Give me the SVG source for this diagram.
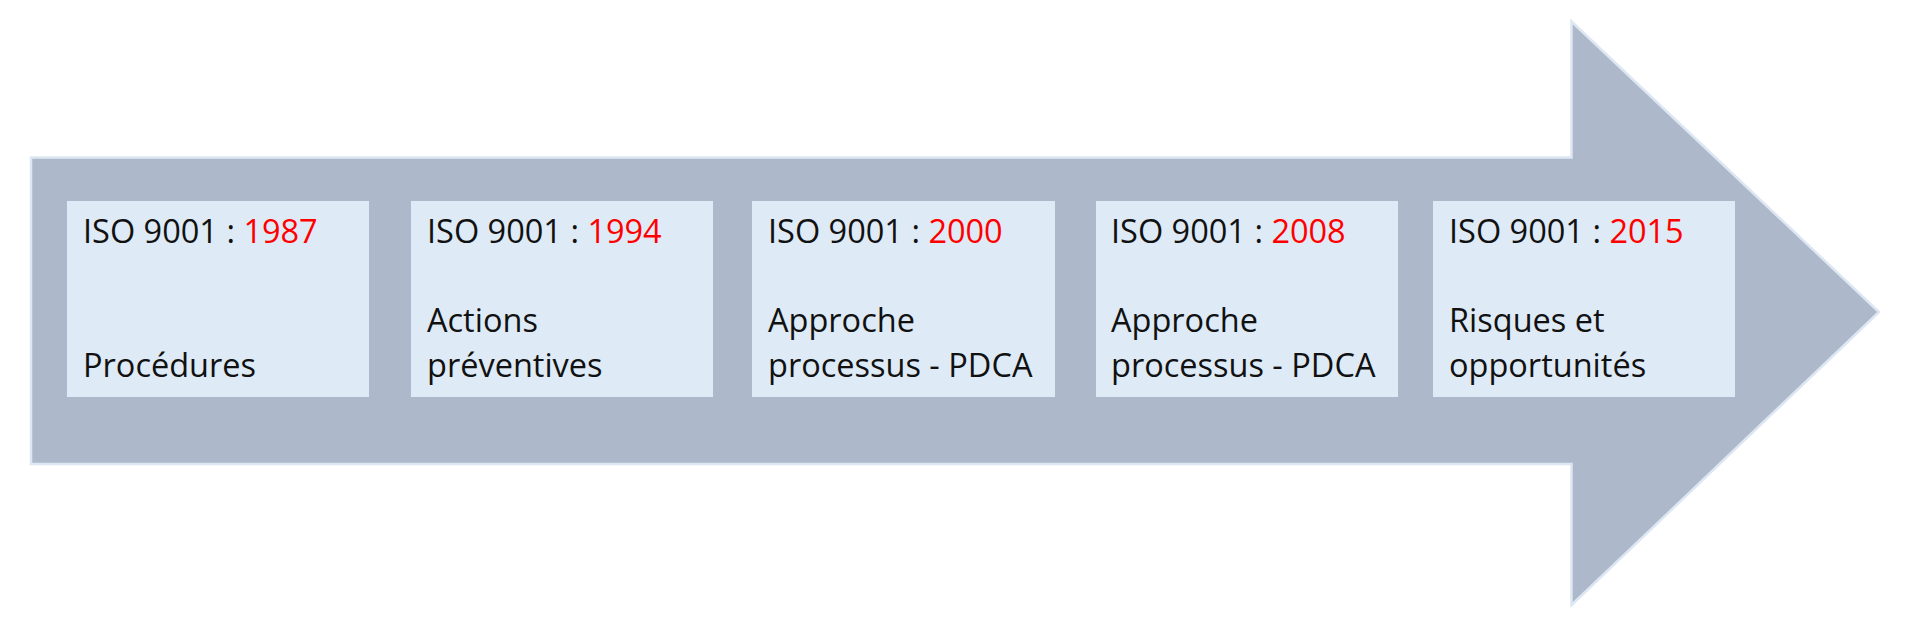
<svg xmlns="http://www.w3.org/2000/svg" width="1906" height="628" viewBox="0 0 1906 628">
  <style>
    .arrow { fill: #adb8ca; stroke: #dde7f3; stroke-width: 2.5; stroke-linejoin: miter; }
    .box { fill: #deeaf6; }
    .t { font-family: "Open Sans", "Liberation Sans", sans-serif; font-size: 32.5px; fill: #111111; }
    .yr { fill: #ff0000; }
  </style>
  <rect width="1906" height="628" fill="#ffffff"/>
  <g id="arrow">
    <polygon class="arrow" points="31,157.5 1571.5,157.5 1571.5,21.5 1879,312 1571.5,605 1571.5,464 31,464"/>
  </g>
  <g id="node-1987">
    <rect class="box" x="67" y="201" width="302" height="196"/>
    <text class="t" x="83" y="243">ISO 9001 : <tspan class="yr">1987</tspan></text>
    <text class="t" x="83" y="377">Procédures</text>
  </g>
  <g id="node-1994">
    <rect class="box" x="411" y="201" width="302" height="196"/>
    <text class="t" x="427" y="243">ISO 9001 : <tspan class="yr">1994</tspan></text>
    <text class="t" x="427" y="332">Actions</text>
    <text class="t" x="427" y="377">préventives</text>
  </g>
  <g id="node-2000">
    <rect class="box" x="752" y="201" width="303" height="196"/>
    <text class="t" x="768" y="243">ISO 9001 : <tspan class="yr">2000</tspan></text>
    <text class="t" x="768" y="332">Approche</text>
    <text class="t" x="768" y="377">processus - PDCA</text>
  </g>
  <g id="node-2008">
    <rect class="box" x="1096" y="201" width="302" height="196"/>
    <text class="t" x="1111" y="243">ISO 9001 : <tspan class="yr">2008</tspan></text>
    <text class="t" x="1111" y="332">Approche</text>
    <text class="t" x="1111" y="377">processus - PDCA</text>
  </g>
  <g id="node-2015">
    <rect class="box" x="1433" y="201" width="302" height="196"/>
    <text class="t" x="1449" y="243">ISO 9001 : <tspan class="yr">2015</tspan></text>
    <text class="t" x="1449" y="332">Risques et</text>
    <text class="t" x="1449" y="377">opportunités</text>
  </g>
  <g id="connectors"></g>
</svg>
